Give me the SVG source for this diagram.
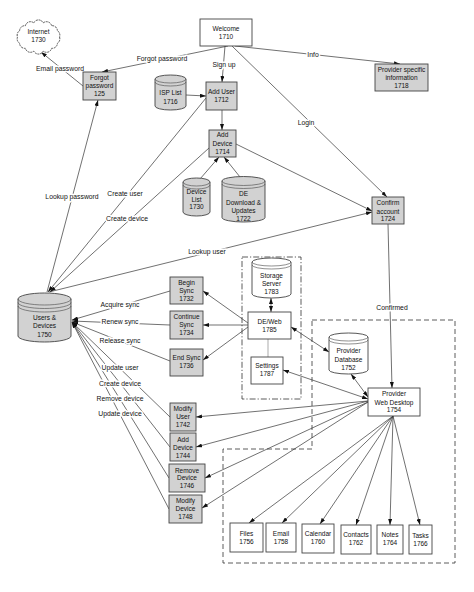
<svg xmlns="http://www.w3.org/2000/svg" width="474" height="592" viewBox="0 0 474 592">
<style>
text{font-family:"Liberation Sans",Arial,sans-serif;font-size:6.5px;fill:#111;text-anchor:middle}
.lbl{font-size:6.8px;stroke:#fff;stroke-width:3;paint-order:stroke;stroke-linejoin:round}
.sh{fill:#d2d2d2;stroke:#444;stroke-width:0.9}
.wh{fill:#fff;stroke:#444;stroke-width:0.9}
.ring{fill:none;stroke:#444;stroke-width:0.6}
.c line,.c path{stroke:#333;stroke-width:0.7;fill:none}
.c .a{marker-end:url(#ah)}
.c .b{marker-start:url(#ah);marker-end:url(#ah)}
.dd{fill:none;stroke:#333;stroke-width:0.8;stroke-dasharray:6 2 1.2 2}
.ds{fill:none;stroke:#333;stroke-width:0.8;stroke-dasharray:5 3}
</style>
<defs>
<marker id="ah" markerUnits="userSpaceOnUse" markerWidth="6" markerHeight="4" refX="6" refY="2" orient="auto-start-reverse"><path d="M0,0 L6,2 L0,4 z" fill="#111"/></marker>
</defs>
<rect width="474" height="592" fill="#fff"/>

<g id="boundaries">
<rect class="dd" x="242" y="257" width="59" height="142"/>
<path class="ds" d="M312,320 H455 V563 H223 V449 H312 Z"/>
</g>

<g class="c" id="connectors">
<line class="a" x1="228" y1="46" x2="102" y2="72"/>
<line class="a" x1="83" y1="86" x2="41" y2="52"/>
<line class="a" x1="225" y1="46" x2="222" y2="82"/>
<line class="a" x1="235" y1="46" x2="400" y2="64"/>
<line class="a" x1="232" y1="46" x2="387" y2="197"/>
<line class="a" x1="186" y1="95" x2="206" y2="96"/>
<line class="a" x1="222" y1="110" x2="222" y2="130"/>
<line class="a" x1="200" y1="179" x2="219" y2="157"/>
<line class="a" x1="240" y1="177" x2="224" y2="157"/>
<line class="a" x1="236" y1="144" x2="372" y2="211"/>
<line class="a" x1="47" y1="292" x2="98" y2="100"/>
<line class="a" x1="206" y1="98" x2="48" y2="292"/>
<line class="a" x1="209" y1="148" x2="50" y2="292"/>
<line class="a" x1="49" y1="292" x2="372" y2="212"/>
<line class="a" x1="170" y1="291" x2="72" y2="320"/>
<line class="a" x1="170" y1="325" x2="72" y2="321"/>
<line class="a" x1="170" y1="361" x2="72" y2="322"/>
<line class="a" x1="248" y1="323" x2="203" y2="291"/>
<line class="a" x1="248" y1="325" x2="203" y2="325"/>
<line class="a" x1="248" y1="327" x2="203" y2="360"/>
<line class="b" x1="271" y1="298" x2="271" y2="312"/>
<line x1="268" y1="339" x2="268" y2="357" style="stroke:#888"/>
<line class="b" x1="291" y1="327" x2="329" y2="352"/>
<line class="b" x1="283" y1="370" x2="368" y2="399"/>
<line class="b" x1="351" y1="374" x2="368" y2="397"/>
<line class="a" x1="388" y1="224" x2="392" y2="388"/>
<line class="a" x1="368" y1="401" x2="196" y2="417"/>
<line class="a" x1="368" y1="401" x2="196" y2="447"/>
<line class="a" x1="368" y1="402" x2="205" y2="478"/>
<line class="a" x1="368" y1="402" x2="202" y2="508"/>
<line class="a" x1="170" y1="417" x2="72" y2="322"/>
<line class="a" x1="170" y1="447" x2="72" y2="322"/>
<line class="a" x1="169" y1="478" x2="72" y2="322"/>
<line class="a" x1="169" y1="509" x2="72" y2="322"/>
<line class="a" x1="393" y1="416" x2="249" y2="523"/>
<line class="a" x1="393" y1="416" x2="282" y2="523"/>
<line class="a" x1="393" y1="416" x2="320" y2="524"/>
<line class="a" x1="393" y1="416" x2="356" y2="525"/>
<line class="a" x1="393" y1="416" x2="390" y2="525"/>
<line class="a" x1="393" y1="416" x2="420" y2="525"/>
</g>

<g id="labels">
<text class="lbl" x="60" y="71">Email password</text>
<text class="lbl" x="162" y="61">Forgot password</text>
<text class="lbl" x="224" y="66.5">Sign up</text>
<text class="lbl" x="313" y="57">Info</text>
<text class="lbl" x="306" y="124.5">Login</text>
<text class="lbl" x="72" y="198.5">Lookup password</text>
<text class="lbl" x="125" y="195.5">Create user</text>
<text class="lbl" x="127" y="220.5">Create device</text>
<text class="lbl" x="207" y="253.5">Lookup user</text>
<text class="lbl" x="120" y="306.5">Acquire sync</text>
<text class="lbl" x="120" y="323.5">Renew sync</text>
<text class="lbl" x="120" y="342.5">Release sync</text>
<text class="lbl" x="120" y="369.5">Update user</text>
<text class="lbl" x="120" y="385.5">Create device</text>
<text class="lbl" x="120" y="400.5">Remove device</text>
<text class="lbl" x="120" y="415.5">Update device</text>
<text class="lbl" x="392" y="309.5">Confirmed</text>
</g>

<g id="internet">
<path class="wh" d="M59.5,37 A5.2,5.2 0 0 1 57.4,43.3 A5.2,5.2 0 0 1 51.6,48.3 A5.2,5.2 0 0 1 43.2,51.1 A5.2,5.2 0 0 1 33.8,51.1 A5.2,5.2 0 0 1 25.4,48.3 A5.2,5.2 0 0 1 19.6,43.3 A5.2,5.2 0 0 1 17.5,37 A5.2,5.2 0 0 1 19.6,30.7 A5.2,5.2 0 0 1 25.4,25.7 A5.2,5.2 0 0 1 33.8,22.9 A5.2,5.2 0 0 1 43.2,22.9 A5.2,5.2 0 0 1 51.6,25.7 A5.2,5.2 0 0 1 57.4,30.7 A5.2,5.2 0 0 1 59.5,37 Z" style="stroke-dasharray:2 0.8"/>
<text x="38.5" y="34">Internet</text><text x="38.5" y="41.5">1730</text>
</g>

<g id="welcome"><rect class="wh" x="200" y="19" width="52" height="27"/><text x="226" y="31">Welcome</text><text x="226" y="39">1710</text></g>

<g id="forgot"><rect class="sh" x="83" y="72" width="33" height="28"/><text x="99.5" y="80">Forgot</text><text x="99.5" y="88">password</text><text x="99.5" y="96">125</text></g>

<g id="adduser"><rect class="sh" x="206" y="82" width="31" height="28"/><text x="221.5" y="94">Add User</text><text x="221.5" y="102">1712</text></g>

<g id="isplist">
<path class="sh" d="M155,79 A15.5,4 0 0 1 186,79 V106 A15.5,4 0 0 1 155,106 Z"/>
<path class="ring" d="M155,79 A15.5,4 0 0 0 186,79 M155,82 A15.5,4 0 0 0 186,82"/>
<text x="170.5" y="94.5">ISP List</text><text x="170.5" y="104">1716</text>
</g>

<g id="adddevice"><rect class="sh" x="209" y="130" width="27" height="27"/><text x="222.5" y="137">Add</text><text x="222.5" y="145.5">Device</text><text x="222.5" y="153.5">1714</text></g>

<g id="devicelist">
<path class="sh" d="M183,182 A13.5,4 0 0 1 210,182 V212 A13.5,4 0 0 1 183,212 Z"/>
<path class="ring" d="M183,182 A13.5,4 0 0 0 210,182 M183,185 A13.5,4 0 0 0 210,185"/>
<text x="196.5" y="194">Device</text><text x="196.5" y="201.5">List</text><text x="196.5" y="209">1730</text>
</g>

<g id="dedownload">
<path class="sh" d="M222,181 A21.5,4.5 0 0 1 265,181 V217.5 A21.5,4.5 0 0 1 222,217.5 Z"/>
<path class="ring" d="M222,181 A21.5,4.5 0 0 0 265,181 M222,184 A21.5,4.5 0 0 0 265,184"/>
<text x="243.5" y="196">DE</text><text x="243.5" y="204.5">Download &amp;</text><text x="243.5" y="212.5">Updates</text><text x="243.5" y="220.5">1722</text>
</g>

<g id="providerinfo"><rect class="sh" x="375" y="64" width="53" height="27"/><text x="401.5" y="71.5">Provider specific</text><text x="401.5" y="79.5">information</text><text x="401.5" y="87.5">1718</text></g>

<g id="confirm"><rect class="sh" x="372" y="197" width="32" height="27"/><text x="388" y="205">Confirm</text><text x="388" y="213.5">account</text><text x="388" y="221">1724</text></g>

<g id="usersdevices">
<path class="sh" d="M18,299 A26.5,6 0 0 1 71,299 V336 A26.5,6 0 0 1 18,336 Z"/>
<path class="ring" d="M18,299 A26.5,6 0 0 0 71,299 M18,302.5 A26.5,6 0 0 0 71,302.5 M18,306 A26.5,6 0 0 0 71,306"/>
<text x="44.5" y="319.5">Users &amp;</text><text x="44.5" y="328">Devices</text><text x="44.5" y="336.5">1750</text>
</g>

<g id="storage">
<path class="wh" d="M252,262 A19.5,4 0 0 1 291,262 V294 A19.5,4 0 0 1 252,294 Z"/>
<path class="ring" d="M252,262 A19.5,4 0 0 0 291,262 M252,265 A19.5,4 0 0 0 291,265"/>
<text x="271.5" y="278">Storage</text><text x="271.5" y="286">Server</text><text x="271.5" y="294">1783</text>
</g>

<g id="deweb"><rect class="wh" x="248" y="312" width="43" height="27"/><text x="269.5" y="323.5">DE/Web</text><text x="269.5" y="331.5">1785</text></g>

<g id="settings"><rect class="wh" x="251" y="357" width="32" height="27"/><text x="267" y="368">Settings</text><text x="267" y="375.5">1787</text></g>

<g id="beginsync"><rect class="sh" x="170" y="277" width="33" height="27"/><text x="186.5" y="284.5">Begin</text><text x="186.5" y="293">Sync</text><text x="186.5" y="300.5">1732</text></g>
<g id="continuesync"><rect class="sh" x="170" y="311" width="33" height="28"/><text x="186.5" y="319">Continue</text><text x="186.5" y="327">Sync</text><text x="186.5" y="334.5">1734</text></g>
<g id="endsync"><rect class="sh" x="170" y="349" width="33" height="27"/><text x="186.5" y="360">End Sync</text><text x="186.5" y="368">1736</text></g>

<g id="providerdb">
<path class="wh" d="M329,337 A19.5,4 0 0 1 368,337 V370 A19.5,4 0 0 1 329,370 Z"/>
<path class="ring" d="M329,337 A19.5,4 0 0 0 368,337 M329,340 A19.5,4 0 0 0 368,340"/>
<text x="348.5" y="353">Provider</text><text x="348.5" y="361.5">Database</text><text x="348.5" y="369.5">1752</text>
</g>

<g id="pwd"><rect class="wh" x="368" y="388" width="52" height="28"/><text x="394" y="396">Provider</text><text x="394" y="404.5">Web Desktop</text><text x="394" y="412">1754</text></g>

<g id="modifyuser"><rect class="sh" x="170" y="403" width="26" height="28"/><text x="183" y="410.5">Modify</text><text x="183" y="418.5">User</text><text x="183" y="426.5">1742</text></g>
<g id="adddevice2"><rect class="sh" x="170" y="433" width="26" height="28"/><text x="183" y="441.5">Add</text><text x="183" y="449.5">Device</text><text x="183" y="457.5">1744</text></g>
<g id="removedevice"><rect class="sh" x="169" y="464" width="36" height="28"/><text x="187" y="472.5">Remove</text><text x="187" y="480">Device</text><text x="187" y="488">1746</text></g>
<g id="modifydevice"><rect class="sh" x="169" y="495" width="33" height="28"/><text x="185.5" y="503">Modify</text><text x="185.5" y="511">Device</text><text x="185.5" y="519">1748</text></g>

<g id="files"><rect class="wh" x="230" y="523" width="33" height="29"/><text x="246.5" y="535.5">Files</text><text x="246.5" y="543.5">1756</text></g>
<g id="email"><rect class="wh" x="266" y="523" width="30" height="29"/><text x="281" y="535.5">Email</text><text x="281" y="543.5">1758</text></g>
<g id="calendar"><rect class="wh" x="302" y="524" width="32" height="29"/><text x="318" y="536">Calendar</text><text x="318" y="544">1760</text></g>
<g id="contacts"><rect class="wh" x="341" y="525" width="30" height="29"/><text x="356" y="537">Contacts</text><text x="356" y="545">1762</text></g>
<g id="notes"><rect class="wh" x="377" y="525" width="26" height="29"/><text x="390" y="537">Notes</text><text x="390" y="545">1764</text></g>
<g id="tasks"><rect class="wh" x="409" y="525" width="23" height="29"/><text x="420.5" y="538">Tasks</text><text x="420.5" y="546">1766</text></g>
</svg>
